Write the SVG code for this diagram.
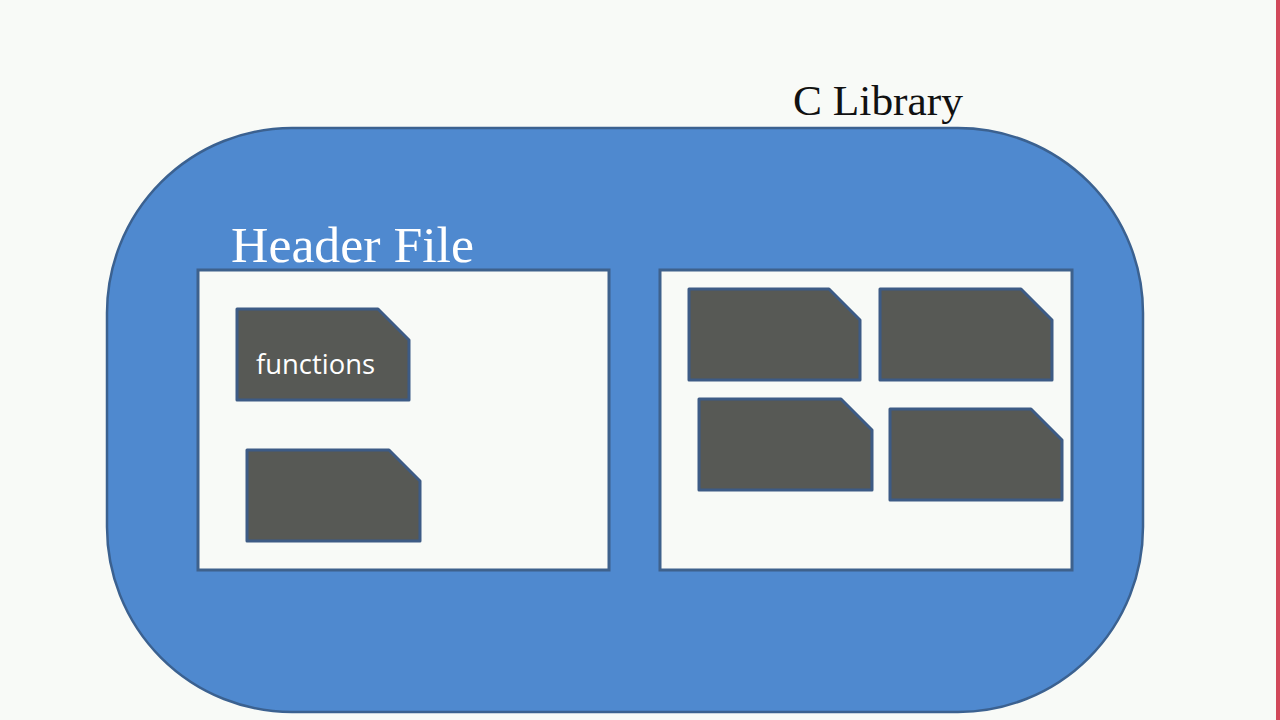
<svg xmlns="http://www.w3.org/2000/svg" width="1280" height="720" viewBox="0 0 1280 720">
<style>
.box{fill:#F8FAF7;stroke:#3E618C;stroke-width:3}
.snip{fill:#575955;stroke:#3D5B85;stroke-width:3;stroke-linejoin:round}
.serif{font-family:"Liberation Serif","DejaVu Serif",serif}
</style>
<rect x="0" y="0" width="1280" height="720" fill="#F8FAF7"/>
<rect x="1276" y="0" width="4" height="720" fill="#D2485A"/>
<g id="c-library">
<rect x="107" y="128" width="1036" height="584" rx="185" ry="185" fill="#4F89CF" stroke="#3B6190" stroke-width="2.5"/>
<text class="serif" x="793" y="115" font-size="43" fill="#111" textLength="170" lengthAdjust="spacingAndGlyphs">C Library</text>
</g>
<g id="header-file">
<rect class="box" x="198" y="270" width="411" height="300"/>
<text class="serif" x="231" y="262" font-size="50" fill="#FFFFFF" textLength="243" lengthAdjust="spacingAndGlyphs">Header File</text>
</g>
<g id="functions">
<path class="snip" d="M237 309 H378 L409 340 V400 H237 Z"/>
<text x="256" y="374" font-family="'Open Sans','Liberation Sans',sans-serif" font-size="28" fill="#FFFFFF" textLength="119" lengthAdjust="spacingAndGlyphs">functions</text>
</g>
<g id="header-item-2">
<path class="snip" d="M247 450 H389 L420 481 V541 H247 Z"/>
</g>
<g id="library-box">
<rect class="box" x="660" y="270" width="412" height="300"/>
</g>
<g id="lib-item-1"><path class="snip" d="M689 289 H829 L860 320 V380 H689 Z"/></g>
<g id="lib-item-2"><path class="snip" d="M880 289 H1021 L1052 320 V380 H880 Z"/></g>
<g id="lib-item-3"><path class="snip" d="M699 399 H841 L872 430 V490 H699 Z"/></g>
<g id="lib-item-4"><path class="snip" d="M890 409 H1031 L1062 440 V500 H890 Z"/></g>
<g id="connectors"></g>
</svg>
